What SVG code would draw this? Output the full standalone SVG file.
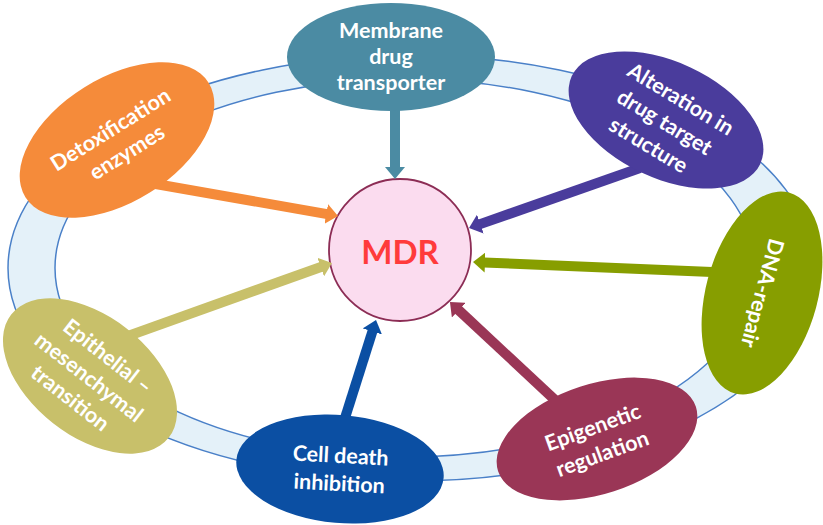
<svg xmlns="http://www.w3.org/2000/svg" width="823" height="525" viewBox="0 0 823 525">
<style>
.lbl{font-family:Lato,"Open Sans","Liberation Sans",sans-serif;font-weight:bold;font-size:21.5px;fill:#ffffff;text-anchor:middle}
.sh{fill:none;stroke-width:10;stroke-linecap:butt}
</style>
<defs>
<marker id="aTeal" markerUnits="userSpaceOnUse" markerWidth="13" markerHeight="20" refX="1" refY="10" orient="auto"><path d="M0,0 L12,10 L0,20z" fill="#4b8ba3"/></marker>
<marker id="aOrange" markerUnits="userSpaceOnUse" markerWidth="13" markerHeight="20" refX="1" refY="10" orient="auto"><path d="M0,0 L12,10 L0,20z" fill="#f58b3a"/></marker>
<marker id="aIndigo" markerUnits="userSpaceOnUse" markerWidth="13" markerHeight="20" refX="1" refY="10" orient="auto"><path d="M0,0 L12,10 L0,20z" fill="#4a3c9c"/></marker>
<marker id="aOlive" markerUnits="userSpaceOnUse" markerWidth="13" markerHeight="20" refX="1" refY="10" orient="auto"><path d="M0,0 L12,10 L0,20z" fill="#879e00"/></marker>
<marker id="aMaroon" markerUnits="userSpaceOnUse" markerWidth="13" markerHeight="20" refX="1" refY="10" orient="auto"><path d="M0,0 L12,10 L0,20z" fill="#9a3656"/></marker>
<marker id="aBlue" markerUnits="userSpaceOnUse" markerWidth="13" markerHeight="20" refX="1" refY="10" orient="auto"><path d="M0,0 L12,10 L0,20z" fill="#0b4fa3"/></marker>
<marker id="aKhaki" markerUnits="userSpaceOnUse" markerWidth="13" markerHeight="20" refX="1" refY="10" orient="auto"><path d="M0,0 L12,10 L0,20z" fill="#c8c06a"/></marker>
</defs>
<rect width="823" height="525" fill="#ffffff"/>
<g id="ring">
<path d="M8,268 A403,213 0 1,0 814,268 A403,213 0 1,0 8,268 Z M55,268 A350,189 0 1,0 755,268 A350,189 0 1,0 55,268 Z" fill="#e4f1f9" fill-rule="evenodd" stroke="#4a80c8" stroke-width="1.5"/>
</g>
<g id="mdr">
<circle cx="400" cy="250" r="71" fill="#fbdcef" stroke="#8c2d55" stroke-width="1.8"/>
<text x="400" y="264" font-family="Lato,'Open Sans','Liberation Sans',sans-serif" font-weight="bold" font-size="33" fill="#ff3b3b" text-anchor="middle">MDR</text>
</g>
<g id="connectors">
<line class="sh" x1="395" y1="108" x2="395" y2="168" stroke="#4b8ba3" stroke-width="11" marker-end="url(#aTeal)"/>
<line class="sh" x1="150" y1="183" x2="327.2" y2="214.1" stroke="#f58b3a" marker-end="url(#aOrange)"/>
<line class="sh" x1="640" y1="168" x2="479.4" y2="224.4" stroke="#4a3c9c" marker-end="url(#aIndigo)"/>
<line class="sh" x1="712" y1="272" x2="484" y2="262.5" stroke="#879e00" marker-end="url(#aOlive)"/>
<line class="sh" x1="555" y1="400" x2="458" y2="309.5" stroke="#9a3656" marker-end="url(#aMaroon)"/>
<line class="sh" x1="345" y1="418" x2="372.7" y2="330.5" stroke="#0b4fa3" marker-end="url(#aBlue)"/>
<line class="sh" x1="128" y1="336" x2="321.6" y2="266.7" stroke="#c8c06a" stroke-width="12" marker-end="url(#aKhaki)"/>
</g>
<g id="membrane">
<ellipse cx="391" cy="57" rx="104" ry="54" fill="#4b8ba3"/>
<text class="lbl" x="391" y="38">Membrane</text>
<text class="lbl" x="391" y="64">drug</text>
<text class="lbl" x="391" y="90">transporter</text>
</g>
<g id="detox" transform="translate(117,140) rotate(-32)">
<ellipse cx="0" cy="0" rx="108" ry="62" fill="#f58b3a"/>
<text class="lbl" x="0" y="-5">Detoxification</text>
<text class="lbl" x="2" y="23">enzymes</text>
</g>
<g id="alteration" transform="translate(666,120) rotate(25)">
<ellipse cx="0" cy="0" rx="104" ry="58" fill="#4a3c9c"/>
<g transform="rotate(6)">
<text class="lbl" x="2" y="-18">Alteration in</text>
<text class="lbl" x="0" y="10">drug target</text>
<text class="lbl" x="-2" y="38">structure</text>
</g>
</g>
<g id="dnarepair" transform="translate(762,293) rotate(-75)">
<ellipse cx="0" cy="0" rx="104" ry="56" fill="#879e00"/>
<text class="lbl" x="0" y="7" transform="rotate(180)">DNA-repair</text>
</g>
<g id="epigenetic" transform="translate(597,439) rotate(-18)">
<ellipse cx="0" cy="0" rx="104" ry="55" fill="#9a3656"/>
<g transform="rotate(-2)">
<text class="lbl" x="0" y="-5">Epigenetic</text>
<text class="lbl" x="0" y="23">regulation</text>
</g>
</g>
<g id="celldeath" transform="translate(340,469) rotate(5)">
<ellipse cx="0" cy="0" rx="104" ry="54" fill="#0b4fa3"/>
<g transform="rotate(-2)">
<text class="lbl" x="0" y="-6">Cell death</text>
<text class="lbl" x="0" y="22">inhibition</text>
</g>
</g>
<g id="emt" transform="translate(90,376) rotate(38)">
<ellipse cx="0" cy="0" rx="100" ry="60" fill="#c8c06a"/>
<text class="lbl" x="2" y="-19">Epithelial –</text>
<text class="lbl" x="0" y="9">mesenchymal</text>
<text class="lbl" x="-2" y="37">transition</text>
</g>
</svg>
